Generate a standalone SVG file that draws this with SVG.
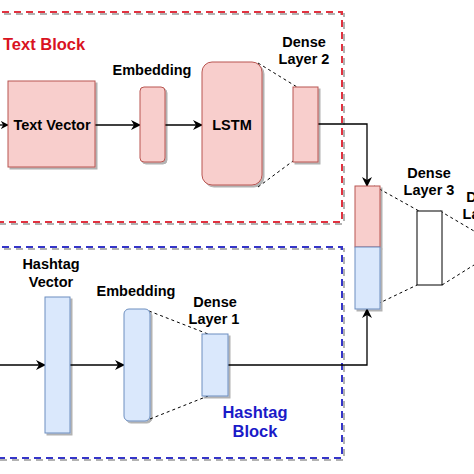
<svg xmlns="http://www.w3.org/2000/svg" width="474" height="474" viewBox="0 0 474 474">
<defs>
<filter id="sh" x="-20%" y="-20%" width="150%" height="150%">
<feDropShadow dx="2" dy="2" stdDeviation="0.6" flood-color="#000" flood-opacity="0.3"/>
</filter>
<marker id="ah" viewBox="0 0 10 10" refX="9" refY="5" markerWidth="8" markerHeight="8" markerUnits="userSpaceOnUse" orient="auto">
<path d="M0,0 L10,5 L0,10 L3,5 Z" fill="#000"/>
</marker>
<marker id="ahb" viewBox="0 0 10 10" refX="9" refY="5" markerWidth="10" markerHeight="10" markerUnits="userSpaceOnUse" orient="auto">
<path d="M0,0 L10,5 L0,10 L3,5 Z" fill="#000"/>
</marker>
</defs>
<style>
text{font-family:"Liberation Sans",Arial,sans-serif;font-weight:bold;text-anchor:middle;fill:#000}
.lbl{font-size:14.5px}
.red{fill:#f8cecc;stroke:#b85450;stroke-width:1}
.blue{fill:#dae8fc;stroke:#6c8ebf;stroke-width:1}
.wht{fill:#fff;stroke:#000;stroke-width:1}
.conn{fill:none;stroke:#000;stroke-width:1.3}
.dot{fill:none;stroke:#000;stroke-width:1;stroke-dasharray:3 3}
</style>
<rect width="474" height="474" fill="#fff"/>

<g id="text-block">
<rect x="-10" y="12" width="352" height="210" fill="none" stroke="#e03340" stroke-width="2" stroke-dasharray="7 5" filter="url(#sh)"/>
<text x="3" y="50" style="font-size:16.5px;text-anchor:start;fill:#d9131f">Text Block</text>
</g>
<g id="hashtag-block">
<rect x="-10" y="247" width="352" height="211" fill="none" stroke="#3535c8" stroke-width="2" stroke-dasharray="7 5" filter="url(#sh)"/>
<text x="255" y="418" style="font-size:16.5px;fill:#1a1ac8">Hashtag</text>
<text x="255" y="437" style="font-size:16.5px;fill:#1a1ac8">Block</text>
</g>

<g id="connectors">
<line class="conn" x1="0" y1="125" x2="8" y2="125" marker-end="url(#ah)"/>
<line class="conn" x1="95" y1="125" x2="140" y2="125" marker-end="url(#ahb)"/>
<line class="conn" x1="165" y1="125" x2="202" y2="125" marker-end="url(#ahb)"/>
<polyline class="conn" points="318,124 367,124 367,186" marker-end="url(#ahb)"/>
<line class="conn" x1="0" y1="365" x2="45" y2="365" marker-end="url(#ahb)"/>
<line class="conn" x1="70" y1="365" x2="124" y2="365" marker-end="url(#ahb)"/>
<polyline class="conn" points="228,365 367,365 367,309" marker-end="url(#ahb)"/>
<line class="dot" x1="258" y1="63" x2="297" y2="87"/>
<line class="dot" x1="258" y1="187" x2="293" y2="161"/>
<line class="dot" x1="149" y1="311" x2="208" y2="334"/>
<line class="dot" x1="150" y1="419" x2="208" y2="396"/>
<line class="dot" x1="374" y1="186" x2="419" y2="211"/>
<line class="dot" x1="367" y1="309" x2="417" y2="285"/>
<line class="dot" x1="440" y1="211" x2="474" y2="231"/>
<line class="dot" x1="442" y1="285" x2="474" y2="265"/>
</g>

<g id="text-vector">
<rect class="red" x="8" y="81" width="87" height="86" filter="url(#sh)"/>
<text class="lbl" x="52" y="130">Text Vector</text>
</g>
<g id="text-embedding">
<text class="lbl" x="152" y="75">Embedding</text>
<rect class="red" x="140" y="87" width="25" height="75" rx="4" filter="url(#sh)"/>
</g>
<g id="lstm">
<rect class="red" x="202" y="62" width="60" height="123" rx="10" filter="url(#sh)"/>
<text class="lbl" x="232" y="130">LSTM</text>
</g>
<g id="dense-layer-2">
<text class="lbl" x="304" y="47">Dense</text>
<text class="lbl" x="304" y="64">Layer 2</text>
<rect class="red" x="293" y="87" width="25" height="75" filter="url(#sh)"/>
</g>
<g id="concat" filter="url(#sh)">
<rect class="red" x="355" y="186" width="25" height="61"/>
<rect class="blue" x="355" y="247" width="25" height="62"/>
</g>
<g id="dense-layer-3">
<text class="lbl" x="429" y="178">Dense</text>
<text class="lbl" x="429" y="195">Layer 3</text>
<rect class="wht" x="417" y="211" width="25" height="74"/>
</g>
<g id="dense-layer-4">
<text class="lbl" x="488" y="202">Dense</text>
<text class="lbl" x="488" y="219">Layer 4</text>
</g>
<g id="hashtag-vector">
<text class="lbl" x="51" y="269">Hashtag</text>
<text class="lbl" x="51" y="287">Vector</text>
<rect class="blue" x="45" y="297" width="25" height="136" filter="url(#sh)"/>
</g>
<g id="hashtag-embedding">
<text class="lbl" x="136" y="296">Embedding</text>
<rect class="blue" x="124" y="309" width="26" height="112" rx="5" filter="url(#sh)"/>
</g>
<g id="dense-layer-1">
<text class="lbl" x="215" y="307">Dense</text>
<text class="lbl" x="214" y="324">Layer 1</text>
<rect class="blue" x="202" y="334" width="26" height="62" filter="url(#sh)"/>
</g>
</svg>
